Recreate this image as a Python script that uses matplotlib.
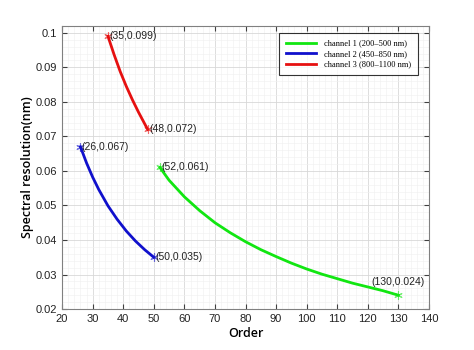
import matplotlib
matplotlib.use("Agg")
import matplotlib.pyplot as plt
from matplotlib.ticker import MultipleLocator

# values
ch1_order = [52, 55, 60, 65, 70, 75, 80, 85, 90, 95, 100, 105, 110, 115, 120, 125, 130]
ch1_res = [0.061, 0.0573, 0.0525, 0.0485, 0.0450, 0.0421, 0.0395, 0.0372, 0.0352,
           0.0333, 0.0316, 0.0301, 0.0288, 0.0275, 0.0264, 0.0253, 0.024]
ch2_order = [26, 28, 30, 32, 35, 38, 41, 44, 47, 50]
ch2_res = [0.067, 0.0623, 0.0582, 0.0546, 0.0499, 0.0460, 0.0426, 0.0397, 0.0372, 0.035]
ch3_order = [35, 37, 39, 41, 43, 45, 48]
ch3_res = [0.099, 0.0937, 0.0888, 0.0845, 0.0806, 0.0770, 0.072]

labels = ["channel 1 (200\u2013500 nm)", "channel 2 (450\u2013850 nm)", "channel 3 (800\u20131100 nm)"]
colors = ["#11e611", "#1010cc", "#e61010"]

fig = plt.figure(figsize=(4.74, 3.5), dpi=100)
ax = fig.add_axes([0.131, 0.117, 0.774, 0.809])

series = [(ch1_order, ch1_res), (ch2_order, ch2_res), (ch3_order, ch3_res)]
for (xs, ys), c, lab in zip(series, colors, labels):
    ax.plot(xs, ys, color=c, lw=2, label=lab)
    ax.plot([xs[0], xs[-1]], [ys[0], ys[-1]], ls="none", marker=(6, 2, 0),
            ms=6, mew=0.8, color=c, alpha=0.6)

# endpoint annotations
tfont = dict(fontsize=7.5, family="Liberation Sans", color="#222222")
for xs, ys in series:
    for x, y in [(xs[0], ys[0]), (xs[-1], ys[-1])]:
        txt = f"({x},{y:g})"
        if x == 130:
            ax.text(x - 9, y + 0.0038, txt, ha="left", va="center", **tfont)
        else:
            ax.text(x + 0.4, y, txt, ha="left", va="center", **tfont)

ax.set_xlim(20, 140)
ax.set_ylim(0.02, 0.102)
ax.xaxis.set_major_locator(MultipleLocator(10))
ax.yaxis.set_major_locator(MultipleLocator(0.01))
ax.xaxis.set_minor_locator(MultipleLocator(2))
ax.yaxis.set_minor_locator(MultipleLocator(0.002))
ax.set_yticks([0.02, 0.03, 0.04, 0.05, 0.06, 0.07, 0.08, 0.09, 0.1])
ax.set_yticklabels(["0.02", "0.03", "0.04", "0.05", "0.06", "0.07", "0.08", "0.09", "0.1"])
ax.grid(which="major", color="#d8d8d8", lw=0.6)
ax.grid(which="minor", color="#f0f0f0", lw=0.4)
ax.set_axisbelow(True)
ax.tick_params(which="both", direction="in", top=True, right=True, labelsize=8,
               colors="#404040", labelcolor="#222222")
ax.tick_params(which="minor", length=0)
for lbl in ax.get_xticklabels() + ax.get_yticklabels():
    lbl.set_family("Liberation Sans")
for s in ax.spines.values():
    s.set_color("#808080")
    s.set_linewidth(0.8)

ax.set_xlabel("Order", fontsize=9, family="Open Sans", fontweight="semibold", labelpad=2)
ax.set_ylabel("Spectral resolution(nm)", fontsize=9, family="Open Sans",
              fontweight="semibold", labelpad=1)

handles = ax.get_lines()[0::2]
leg = ax.legend(handles, labels, loc="upper right", bbox_to_anchor=(0.982, 0.99),
                prop=dict(family="Liberation Serif", size=6), frameon=True,
                fancybox=False, edgecolor="black", handlelength=3.6,
                borderpad=0.8, labelspacing=0.3, handletextpad=1.0)
leg.get_frame().set_linewidth(0.8)

fig.savefig("out.png", dpi=100)
